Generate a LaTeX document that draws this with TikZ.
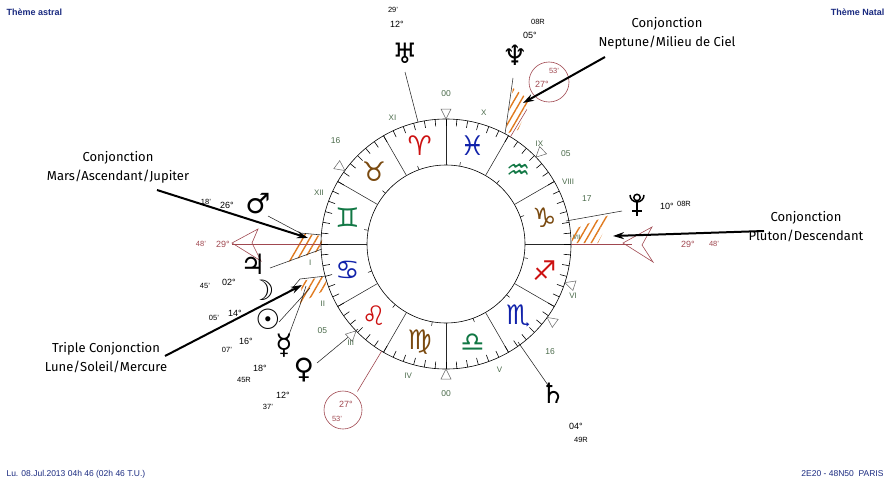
\documentclass[tikz,border=0pt]{standalone}
\usepackage{fontspec}
\setmainfont{Liberation Sans}
\newfontfamily\symf{DejaVu Sans}
\newfontfamily\handf{Fira Sans}
\usetikzlibrary{patterns.meta,arrows.meta}
\definecolor{hatchc}{HTML}{E07A1F}
\definecolor{mkc}{HTML}{A04850}
\definecolor{cred}{HTML}{CC1111}
\definecolor{cblue}{HTML}{1122AA}
\definecolor{cgreen}{HTML}{117744}
\definecolor{cbrown}{HTML}{7A4A10}
\definecolor{cusp}{HTML}{4A6A4A}
\definecolor{navy}{HTML}{1A2A80}
\tikzset{
 sig/.style={font=\symf\fontsize{27}{27}\selectfont},
 pl/.style={font=\symf\fontsize{28}{28}\selectfont, inner sep=0pt},
 tiny/.style={font=\fontsize{9}{10}\selectfont, inner sep=1pt},
 tiny2/.style={font=\fontsize{7.5}{8}\selectfont, inner sep=1pt},
 cnum/.style={font=\fontsize{8.5}{9}\selectfont, text=cusp},
 mtxt/.style={font=\fontsize{9}{10}\selectfont, text=mkc},
 mtxt2/.style={font=\fontsize{7.5}{8}\selectfont, text=mkc},
 hatch/.style={pattern={Lines[angle=60,distance=6pt,line width=1.4pt]}, pattern color=hatchc},
 callout/.style={font=\handf\fontsize{13}{19}\selectfont, align=center},
 carrow/.style={-{Stealth[length=11pt,width=7pt]}, line width=2pt},
 tri/.style={draw=black!60, fill=white, line width=0.5pt},
 pline/.style={line width=0.55pt, draw=black!85},
 mline/.style={draw=mkc, line width=0.6pt},
}
\begin{document}
\begin{tikzpicture}[x=1pt,y=-1pt]
\useasboundingbox (0,0) rectangle (891,487);
% header / footer
\node[anchor=west, font=\bfseries\fontsize{9}{10}\selectfont, text=navy] (h1) at (3,12) {Thème astral};
\node[anchor=east, font=\bfseries\fontsize{9}{10}\selectfont, text=navy] (h2) at (888,12) {Thème Natal};
\node[anchor=west, font=\fontsize{8.5}{10}\selectfont, text=navy] (f1) at (3,474) {Lu. 08.Jul.2013 04h 46 (02h 46 T.U.)};
\node[anchor=east, font=\fontsize{8.5}{10}\selectfont, text=navy] (f2) at (887,474) {2E20 - 48N50\ \ PARIS};

% hatch areas
\fill[hatch] (300,233) -- (322,236) -- (322,250) -- (288,262) -- cycle;
\fill[hatch] (302,281) -- (327,276) -- (325,290) -- (306,300) -- (300,305) -- cycle;
\fill[hatch] (572,230) -- (612,214) -- (598,243) -- (572,243) -- cycle;
\fill[hatch] (505,134) -- (513,88) -- (531,101) -- (518,130) -- cycle;

% planet lines
\draw[pline] (268,216) -- (300,233) -- (322,235);
\draw[pline] (270,268) -- (292,260) -- (322,249);
\draw[pline] (290,291) -- (300,279) -- (326,276);
\draw[pline] (279,322) -- (310,288);
\draw[pline] (287,340) -- (300,305) -- (306,286);
\draw[pline] (317,363) -- (358,329);
\draw[pline] (405,72) -- (418,122);
\draw[pline] (550,388) -- (518,342);
\draw[pline] (566,221) -- (622,211);
\draw[pline] (513,78) -- (505,134);

% chart
\begin{scope}[shift={(446,244)}, yscale=-1]
 \draw[line width=0.6pt] (0,0) circle (125);
 \draw[line width=0.6pt] (0,0) circle (79);
 \foreach \a in {0,30,...,330} \draw[pline] (\a:79) -- (\a:125);
 \foreach \a in {0,5,...,355} \draw[line width=0.6pt] (\a:118) -- (\a:125);
 \foreach \a in {20,50,...,350} \draw[line width=0.5pt] (\a:79) -- (\a:83);
 % axes
 \draw[mline] (0:125) -- (0:186);
 \draw[mline] (180:125) -- (180:214);
 \draw[mline] (59:125) -- (59:157);
 \draw[mline] (239:125) -- (239:172);
 % signs
 \node[sig, text=cred] (s1) at (105:102) {♈};
 \node[sig, text=cbrown] (s2) at (135:102) {♉};
 \node[sig, text=cgreen] (s3) at (165:102) {♊};
 \node[sig, text=cblue] (s4) at (195:102) {♋};
 \node[sig, text=cred] (s5) at (225:102) {♌};
 \node[sig, text=cbrown] (s6) at (255:102) {♍};
 \node[sig, text=cgreen] (s7) at (285:102) {♎};
 \node[sig, text=cblue] (s8) at (315:102) {♏};
 \node[sig, text=cred] (s9) at (345:102) {♐};
 \node[sig, text=cbrown] (s10) at (15:102) {♑};
 \node[sig, text=cgreen] (s11) at (45:102) {♒};
 \node[sig, text=cblue] (s12) at (75:102) {♓};
 % cusp triangles
 \foreach \a in {90,136,36,18,316,270,216}
  \draw[tri, rotate=\a] (125,0) -- (135,-5) -- (135,5) -- cycle;
 \node[cnum] (c1) at (90:150) {00};
 \node[cnum] (c2) at (137:151) {16};
 \node[cnum] (c3) at (37:150) {05};
 \node[cnum] (c4) at (18:148) {17};
 \node[cnum] (c5) at (314:150) {16};
 \node[cnum] (c6) at (270:150) {00};
 \node[cnum] (c7) at (215:151) {05};
 % house numbers
 \foreach \a/\hn in {74/X,113/XI,158/XII,188/I,206/II,226/III,254/IV,293/V,338/VI,27/VIII,47/IX}
  \node[font=\fontsize{8}{9}\selectfont, text=cusp] at (\a:137) {\hn};
 \node[font=\fontsize{6.5}{7}\selectfont, text=cusp] (h7) at (3:131) {VII};
\end{scope}

% markers
\draw[mline] (258,229) -- (232,243) -- (261,261) -- (252,243) -- cycle;
\draw[mline] (652,227) -- (623,243) -- (653,262) -- (642,245) -- cycle;
\node[mtxt] at (223,244) {29°};
\node[mtxt2] at (201,244) {48'};
\node[mtxt] at (688,244) {29°};
\node[mtxt2] at (714,244) {48'};
\draw[mline] (549,82) circle (20);
\node[mtxt] at (542,84) {27°};
\node[mtxt2] at (554,71) {53'};
\draw[mline] (343,410) circle (19);
\node[mtxt] at (346,404) {27°};
\node[mtxt2] at (337,419) {53'};

% planets
\node[pl] (ura) at (405,53) {♅};
\node[tiny] at (397,24) {12°}; \node[tiny2] at (393,10) {29'};
\node[pl] (nep) at (515,55) {♆};
\node[tiny] at (530,35) {05°}; \node[tiny2] at (538,22) {08R};
\coordinate (plu) at (637,205);
\begin{scope}[shift={(plu)}, yscale=-1, line width=1.5pt]
 \draw (0,7.5) circle (3.2);
 \draw (-7,10) arc (180:360:7);
 \draw (0,3) -- (0,-11);
 \draw (-5,-6) -- (5,-6);
\end{scope}
\node[tiny] at (667,206) {10°}; \node[tiny2] at (684,204) {08R};
\node[pl] (sat) at (553,393) {♄};
\node[tiny] at (576,426) {04°}; \node[tiny2] at (581,440) {49R};
\node[pl] (mar) at (258,204) {♂};
\node[tiny] at (227,205) {26°}; \node[tiny2] at (206,202) {18'};
\node[pl, text height=13pt, text depth=0pt] (jup) at (253,268) {♃};
\node[tiny] at (229,282) {02°}; \node[tiny2] at (205,286) {45'};
\node[pl, text height=12pt, text depth=0pt] (moo) at (262,294) {☽};
\node[tiny] at (235,313) {14°}; \node[tiny2] at (214,318) {05'};
\node[pl, text height=14pt, text depth=0pt] (sun) at (268,322) {☉};
\node[tiny] at (246,341) {16°}; \node[tiny2] at (227,350) {07'};
\node[pl] (mer) at (284,346) {☿};
\node[tiny] at (260,368) {18°}; \node[tiny2] at (244,380) {45R};
\node[pl] (ven) at (304,370) {♀};
\node[tiny] at (283,395) {12°}; \node[tiny2] at (268,407) {37'};

% callouts
\node[callout] (k1) at (667,33) {Conjonction\\Neptune/Milieu de Ciel};
\node[callout] (k2) at (118,167) {Conjonction\\Mars/Ascendant/Jupiter};
\node[callout] (k3) at (806,227) {Conjonction\\Pluton/Descendant};
\node[callout] (k4) at (106,358) {Triple Conjonction\\Lune/Soleil/Mercure};
\coordinate (e1) at (523,103);
\coordinate (e2) at (308,238);
\coordinate (e3) at (613,236);
\coordinate (e4) at (302,285);
\draw[carrow] (605,57) -- (e1);
\draw[carrow] (157,190) -- (e2);
\draw[carrow] (764,231) -- (e3);
\draw[carrow] (165,356) -- (e4);
\end{tikzpicture}
\end{document}
